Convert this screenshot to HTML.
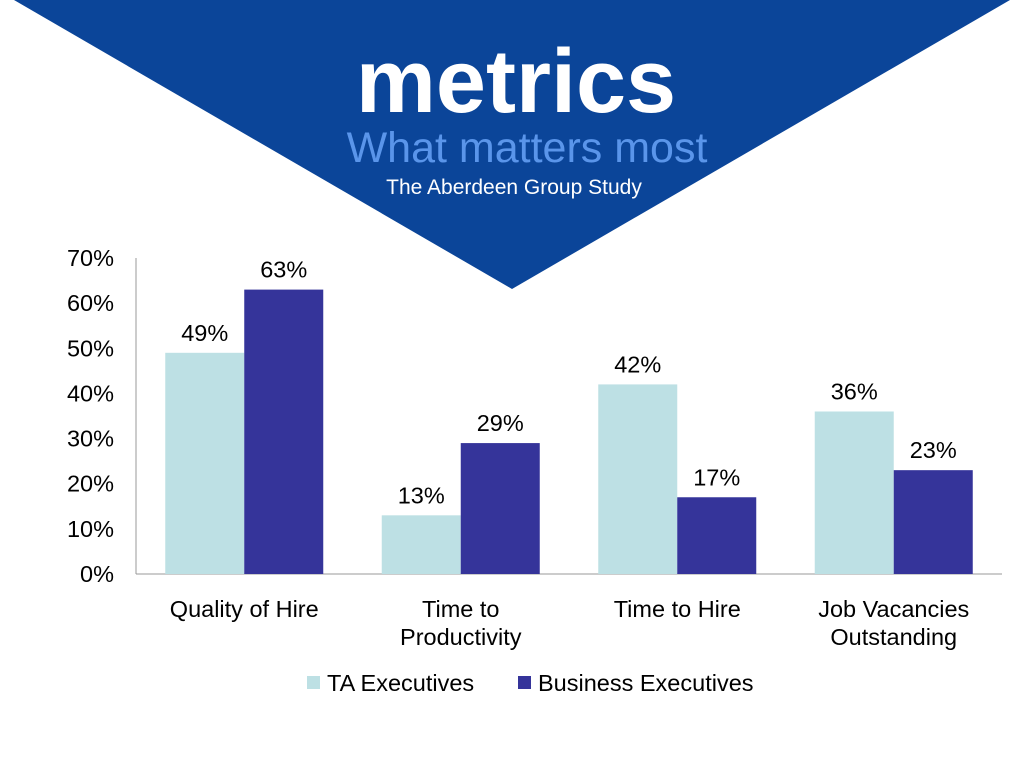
<!DOCTYPE html>
<html><head><meta charset="utf-8"><style>
body{margin:0;width:1024px;height:768px;background:#fff;overflow:hidden;font-family:"Liberation Sans",sans-serif}
svg{display:block}
</style></head><body>
<svg width="1024" height="768">
<polygon points="14,0 1010,0 512,289" fill="#0b4599"/>
<text x="516" y="112" text-anchor="middle" font-size="90" font-weight="bold" fill="#fff">metrics</text>
<text x="527" y="162" text-anchor="middle" font-size="43" fill="#5a95ea">What matters most</text>
<text x="514" y="194" text-anchor="middle" font-size="21" fill="#fff">The Aberdeen Group Study</text>
<g id="chart"></g>
</svg>
<script>
const categories=[["Quality of Hire"],["Time to","Productivity"],["Time to Hire"],["Job Vacancies","Outstanding"]];
const taValues=[49,13,42,36];
const bizValues=[63,29,17,23];
const yTicks=[0,10,20,30,40,50,60,70];
const seriesNames=["TA Executives","Business Executives"];
const colors=["#bde0e4","#35349a"];
const g=document.getElementById('chart');
const NS="http://www.w3.org/2000/svg";
const x0=136,x1=1002,y0=574,yTop=258,yMax=70;
const y=v=>y0-(y0-yTop)*v/yMax;
const band=(x1-x0)/categories.length;
const bw=79;
function el(t,a,txt){const e=document.createElementNS(NS,t);for(const k in a)e.setAttribute(k,a[k]);if(txt!=null)e.textContent=txt;g.appendChild(e);return e;}
let e=el('line',{x1:x0,y1:yTop,x2:x0,y2:y0,stroke:'#999'});


e=el('line',{x1:x0,y1:y0,x2:x1,y2:y0,stroke:'#999'});


yTicks.forEach(t=>{
 const tx=el('text',{x:114,y:y(t)+8,'text-anchor':'end','font-size':23.5,fill:'#000'},t+'%');
 
 
});
[taValues,bizValues].forEach((vals,s)=>{
 vals.forEach((v,i)=>{
  const cx=x0+band*(i+0.5);
  const bx=cx-bw+s*bw;
  const r=el('rect',{x:bx,y:y(v),width:bw,height:y0-y(v),fill:colors[s]});
  
  
  const l=el('text',{x:bx+bw/2,y:y(v)-12,'text-anchor':'middle','font-size':23.5,fill:'#000'},v+'%');
  
  
 });
});
categories.forEach((c,i)=>{
 const cx=x0+band*(i+0.5);
 c.forEach((line,j)=>{
  const t=el('text',{x:cx,y:617+j*28,'text-anchor':'middle','font-size':23.5,fill:'#000'},line);
  
  
 });
});
const lx=[307,518];
seriesNames.forEach((n,s)=>{
 const r=el('rect',{x:lx[s],y:676,width:13,height:13,fill:colors[s]});
 
 
 const t=el('text',{x:lx[s]+20,y:691,'font-size':23.5,fill:'#000'},n);
 
 
});
</script>
</body></html>
